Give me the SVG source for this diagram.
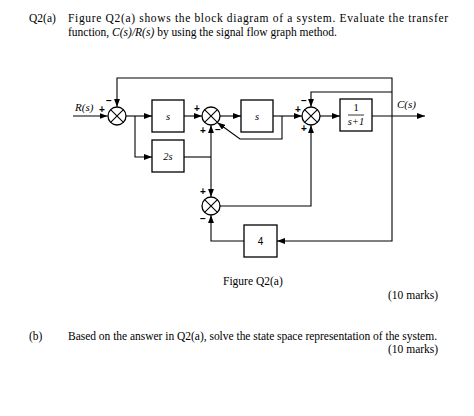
<svg xmlns="http://www.w3.org/2000/svg" width="474" height="416" viewBox="0 0 474 416">
<defs>
<marker id="arr" markerUnits="userSpaceOnUse" markerWidth="8" markerHeight="6" refX="8" refY="3" orient="auto">
<path d="M0,0 L8,3 L0,6 z" fill="#000"/>
</marker>
</defs>
<style>
.t{font-family:"Liberation Serif","Times New Roman",serif;font-size:11.5px;fill:#000}
.i{font-family:"Liberation Serif","Times New Roman",serif;font-style:italic;font-size:11px;fill:#000}
.b{font-family:"Liberation Serif","Times New Roman",serif;font-style:italic;font-size:10.5px;fill:#000;text-anchor:middle}
.n{font-family:"Liberation Serif","Times New Roman",serif;font-size:10.5px;fill:#000;text-anchor:middle}
.sg{font-family:"Liberation Sans",Arial,sans-serif;font-size:10px;font-weight:bold;fill:#000;text-anchor:middle}
.blk{fill:#fff;stroke:#000;stroke-width:1.3}
.sum{fill:#fff;stroke:#000;stroke-width:1.3}
.w{fill:none;stroke:#000;stroke-width:1.1}
.a{fill:none;stroke:#000;stroke-width:1.1;marker-end:url(#arr)}
</style>
<rect width="474" height="416" fill="#fff"/>

<g id="texts">
<text class="t" x="29" y="22">Q2(a)</text>
<text class="t" x="68" y="22" textLength="380" lengthAdjust="spacing">Figure Q2(a) shows the block diagram of a system. Evaluate the transfer</text>
<text class="t" x="68" y="36">function, <tspan font-style="italic">C(s)/R(s)</tspan> by using the signal flow graph method.</text>
<text class="t" x="223" y="285">Figure Q2(a)</text>
<text class="t" x="388" y="299">(10 marks)</text>
<text class="t" x="29" y="340">(b)</text>
<text class="t" x="68" y="340" textLength="369" lengthAdjust="spacing">Based on the answer in Q2(a), solve the state space representation of the system.</text>
<text class="t" x="388" y="353">(10 marks)</text>
</g>

<g id="connectors">
<path class="a" d="M73,116 L107.5,116"/>
<path class="a" d="M126,116 L152,116"/>
<path class="a" d="M135,116 L135,157 L152,157"/>
<path class="a" d="M184,116 L201.8,116"/>
<path class="a" d="M220,116 L241,116"/>
<path class="a" d="M273,116 L301.8,116"/>
<path class="a" d="M282,116 L282,139 L240,139 L217.3,122.5"/>
<path class="w" d="M184,157 L211,157"/>
<path class="a" d="M211,157 L211,125.2"/>
<path class="a" d="M211,157 L211,196.8"/>
<path class="a" d="M220,206 L311,206 L311,125.2"/>
<path class="a" d="M320,116 L340,116"/>
<path class="a" d="M372,116 L425,116"/>
<path class="a" d="M392,116 L392,78 L117,78 L117,106.8"/>
<path class="a" d="M392,116 L392,241 L277,241"/>
<path class="a" d="M392,92 L311,92 L311,106.8"/>
<path class="a" d="M244,241 L211,241 L211,215.2"/>
</g>

<g id="labels">
<text class="i" x="75" y="111">R(s)</text>
<text class="i" x="397" y="108">C(s)</text>
</g>

<g id="sum1">
<circle class="sum" cx="117" cy="116" r="9"/>
<path class="w" d="M110.6,109.6 L123.4,122.4 M123.4,109.6 L110.6,122.4"/>
<text class="sg" x="102" y="113">+</text>
<text class="sg" x="109" y="104">−</text>
</g>

<g id="sum2">
<circle class="sum" cx="211" cy="116" r="9"/>
<path class="w" d="M204.6,109.6 L217.4,122.4 M217.4,109.6 L204.6,122.4"/>
<text class="sg" x="197" y="112">+</text>
<text class="sg" x="203" y="134">+</text>
<text class="sg" x="218" y="133">−</text>
</g>

<g id="sum3">
<circle class="sum" cx="311" cy="116" r="9"/>
<path class="w" d="M304.6,109.6 L317.4,122.4 M317.4,109.6 L304.6,122.4"/>
<text class="sg" x="298" y="113">+</text>
<text class="sg" x="304" y="104">−</text>
<text class="sg" x="304" y="132">+</text>
</g>

<g id="sum4">
<circle class="sum" cx="211" cy="206" r="9"/>
<path class="w" d="M204.6,199.6 L217.4,212.4 M217.4,199.6 L204.6,212.4"/>
<text class="sg" x="203" y="195">+</text>
<text class="sg" x="203" y="222">−</text>
</g>

<g id="block-s1">
<rect class="blk" x="152" y="100" width="32" height="32"/>
<text class="b" x="168" y="120">s</text>
</g>

<g id="block-2s">
<rect class="blk" x="152" y="140" width="32" height="32"/>
<text class="b" x="168" y="160">2s</text>
</g>

<g id="block-s2">
<rect class="blk" x="241" y="100" width="32" height="32"/>
<text class="b" x="257" y="120">s</text>
</g>

<g id="block-g">
<rect class="blk" x="340" y="99" width="32" height="32"/>
<text class="n" x="356" y="111">1</text>
<line x1="348" y1="115" x2="364" y2="115" stroke="#000" stroke-width="0.8"/>
<text class="b" x="356" y="125">s+1</text>
</g>

<g id="block-4">
<rect class="blk" x="244" y="225" width="33" height="32"/>
<text x="260.5" y="245" font-family="Liberation Sans,Arial,sans-serif" font-size="10" text-anchor="middle">4</text>
</g>
</svg>
